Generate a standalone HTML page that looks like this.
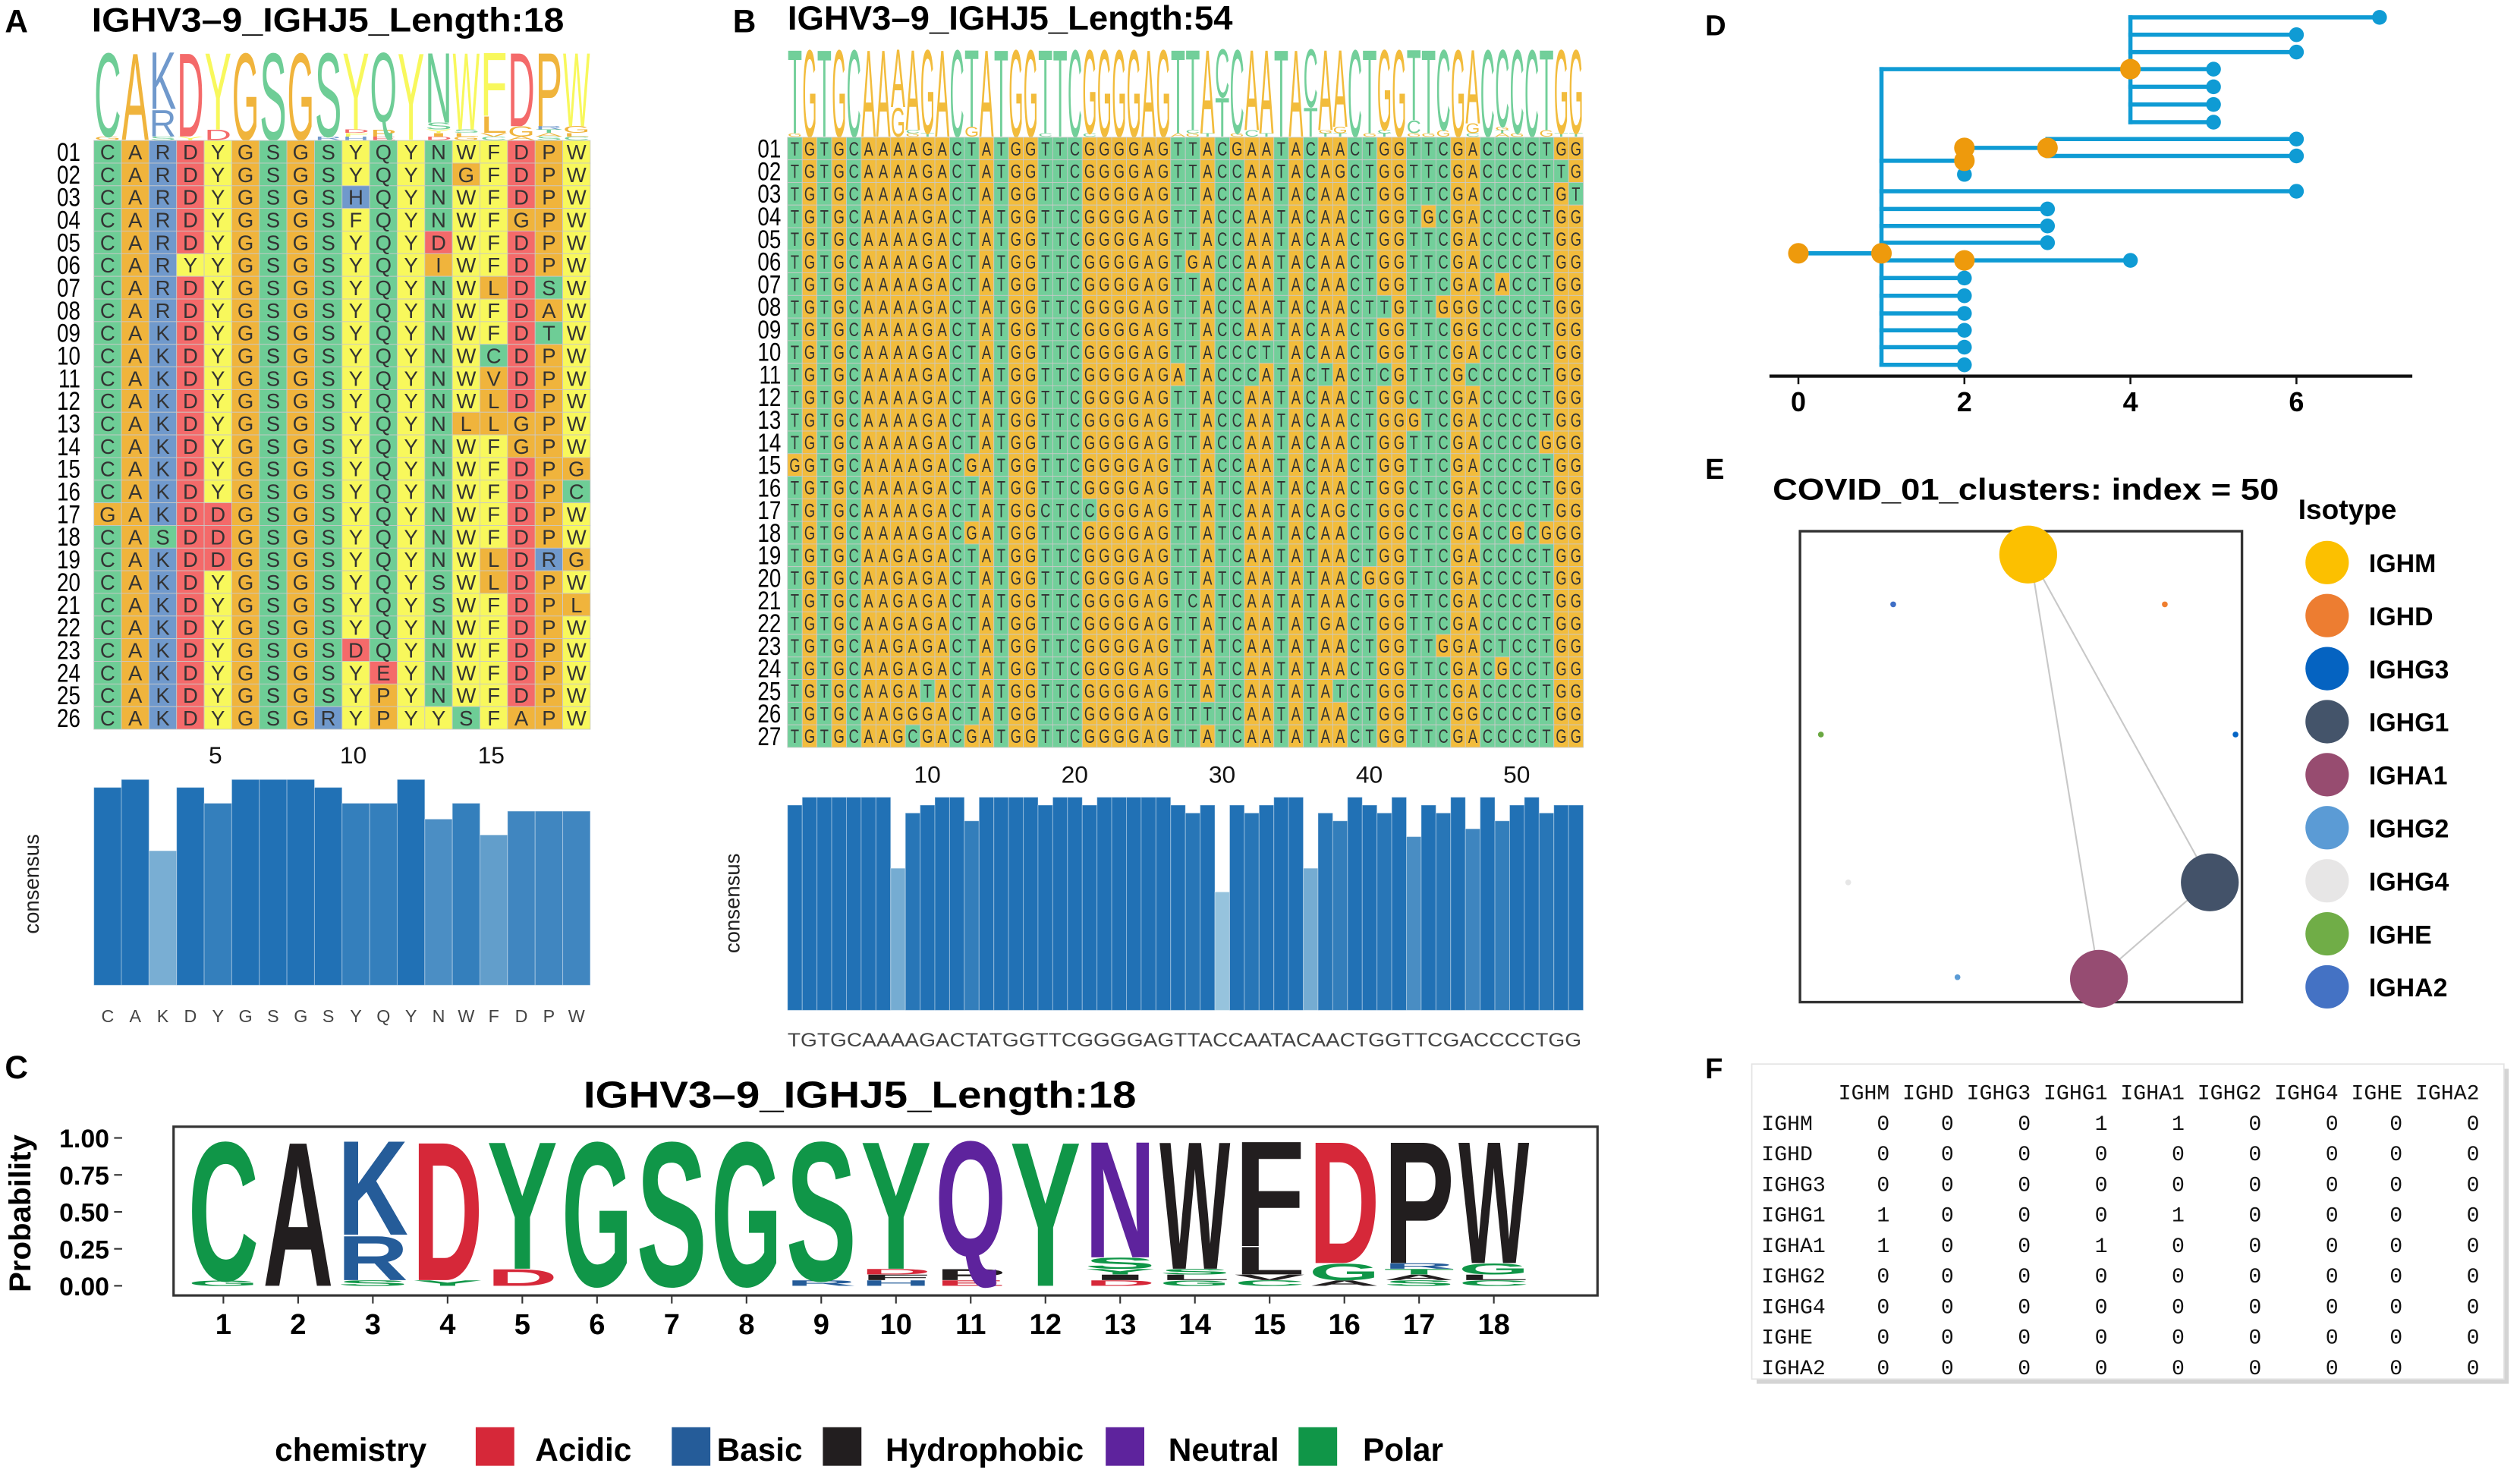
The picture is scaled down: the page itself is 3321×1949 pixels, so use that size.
<!DOCTYPE html>
<html><head><meta charset="utf-8">
<style>
html,body{margin:0;padding:0;background:#fff;}
svg{display:block;}
text{font-family:"Liberation Sans",sans-serif;}
.mono{font-family:"Liberation Mono","DejaVu Sans Mono",monospace;white-space:pre;}
</style></head>
<body>
<svg id="s" xmlns="http://www.w3.org/2000/svg" width="3321" height="1949" viewBox="0 0 1568 920.2">
<rect x="0" y="0" width="1568" height="921" fill="#fff"/>

<!-- ============ PANEL A ============ -->
<text x="3" y="20" font-size="20" font-weight="bold">A</text>
<text x="57" y="19.5" font-size="21" font-weight="bold" textLength="294" lengthAdjust="spacingAndGlyphs">IGHV3–9_IGHJ5_Length:18</text>
<g id="logoA"></g>
<g id="gridA"></g>
<g id="rowsA" font-size="13" fill="#333">
<text class="ra">CARDYGSGSYQYNWFDPW</text>
<text class="ra">CARDYGSGSYQYNGFDPW</text>
<text class="ra">CARDYGSGSHQYNWFDPW</text>
<text class="ra">CARDYGSGSFQYNWFGPW</text>
<text class="ra">CARDYGSGSYQYDWFDPW</text>
<text class="ra">CARYYGSGSYQYIWFDPW</text>
<text class="ra">CARDYGSGSYQYNWLDSW</text>
<text class="ra">CARDYGSGSYQYNWFDAW</text>
<text class="ra">CAKDYGSGSYQYNWFDTW</text>
<text class="ra">CAKDYGSGSYQYNWCDPW</text>
<text class="ra">CAKDYGSGSYQYNWVDPW</text>
<text class="ra">CAKDYGSGSYQYNWLDPW</text>
<text class="ra">CAKDYGSGSYQYNLLGPW</text>
<text class="ra">CAKDYGSGSYQYNWFGPW</text>
<text class="ra">CAKDYGSGSYQYNWFDPG</text>
<text class="ra">CAKDYGSGSYQYNWFDPC</text>
<text class="ra">GAKDDGSGSYQYNWFDPW</text>
<text class="ra">CASDDGSGSYQYNWFDPW</text>
<text class="ra">CAKDDGSGSYQYNWLDRG</text>
<text class="ra">CAKDYGSGSYQYSWLDPW</text>
<text class="ra">CAKDYGSGSYQYSWFDPL</text>
<text class="ra">CAKDYGSGSYQYNWFDPW</text>
<text class="ra">CAKDYGSGSDQYNWFDPW</text>
<text class="ra">CAKDYGSGSYEYNWFDPW</text>
<text class="ra">CAKDYGSGSYPYNWFDPW</text>
<text class="ra">CAKDYGSGRYPYYSFAPW</text>
</g>
<g id="labA" font-size="16" fill="#000"></g>
<g font-size="15" fill="#111" text-anchor="middle">
<text x="134" y="475">5</text><text x="219.8" y="475">10</text><text x="305.6" y="475">15</text>
</g>
<g id="barsA"></g>
<text transform="translate(24,550) rotate(-90)" font-size="13" text-anchor="middle" fill="#222">consensus</text>
<text id="consA" y="636" font-size="11" fill="#444">CAKDYGSGSYQYNWFDPW</text>

<!-- ============ PANEL B ============ -->
<text x="456" y="20" font-size="20" font-weight="bold">B</text>
<text x="490" y="18.5" font-size="21" font-weight="bold" textLength="277" lengthAdjust="spacingAndGlyphs">IGHV3–9_IGHJ5_Length:54</text>
<g id="logoB"></g>
<g id="gridB"></g>
<g id="rowsB" font-size="12" fill="#333">
<text class="rb">TGTGCAAAAGACTATGGTTCGGGGAGTTACGAATACAACTGGTTCGACCCCTGG</text>
<text class="rb">TGTGCAAAAGACTATGGTTCGGGGAGTTACCAATACAGCTGGTTCGACCCCTTG</text>
<text class="rb">TGTGCAAAAGACTATGGTTCGGGGAGTTACCAATACAACTGGTTCGACCCCTGT</text>
<text class="rb">TGTGCAAAAGACTATGGTTCGGGGAGTTACCAATACAACTGGTGCGACCCCTGG</text>
<text class="rb">TGTGCAAAAGACTATGGTTCGGGGAGTTACCAATACAACTGGTTCGACCCCTGG</text>
<text class="rb">TGTGCAAAAGACTATGGTTCGGGGAGTGACCAATACAACTGGTTCGACCCCTGG</text>
<text class="rb">TGTGCAAAAGACTATGGTTCGGGGAGTTACCAATACAACTGGTTCGACACCTGG</text>
<text class="rb">TGTGCAAAAGACTATGGTTCGGGGAGTTACCAATACAACTTGTTGGGCCCCTGG</text>
<text class="rb">TGTGCAAAAGACTATGGTTCGGGGAGTTACCAATACAACTGGTTCGGCCCCTGG</text>
<text class="rb">TGTGCAAAAGACTATGGTTCGGGGAGTTACCCTTACAACTGGTTCGACCCCTGG</text>
<text class="rb">TGTGCAAAAGACTATGGTTCGGGGAGATACCCATACTACTCGTTCGCCCCCTGG</text>
<text class="rb">TGTGCAAAAGACTATGGTTCGGGGAGTTACCAATACAACTGGCTCGACCCCTGG</text>
<text class="rb">TGTGCAAAAGACTATGGTTCGGGGAGTTACCAATACAACTGGGTCGACCCCTGG</text>
<text class="rb">TGTGCAAAAGACTATGGTTCGGGGAGTTACCAATACAACTGGTTCGACCCCGGG</text>
<text class="rb">GGTGCAAAAGACGATGGTTCGGGGAGTTACCAATACAACTGGTTCGACCCCTGG</text>
<text class="rb">TGTGCAAAAGACTATGGTTCGGGGAGTTATCAATACAACTGGCTCGACCCCTGG</text>
<text class="rb">TGTGCAAAAGACTATGGCTCCGGGAGTTATCAATACAGCTGGCTCGACCCCTGG</text>
<text class="rb">TGTGCAAAAGACGATGGTTCGGGGAGTTATCAATACAACTGGCTCGACCGCGGG</text>
<text class="rb">TGTGCAAGAGACTATGGTTCGGGGAGTTATCAATATAACTGGTTCGACCCCTGG</text>
<text class="rb">TGTGCAAGAGACTATGGTTCGGGGAGTTATCAATATAACGGGTTCGACCCCTGG</text>
<text class="rb">TGTGCAAGAGACTATGGTTCGGGGAGTCATCAATATAACTGGTTCGACCCCTGG</text>
<text class="rb">TGTGCAAGAGACTATGGTTCGGGGAGTTATCAATATGACTGGTTCGACCCCTGG</text>
<text class="rb">TGTGCAAGAGACTATGGTTCGGGGAGTTATCAATATAACTGGTTGGACTCCTGG</text>
<text class="rb">TGTGCAAGAGACTATGGTTCGGGGAGTTATCAATATAACTGGTTCGACGCCTGG</text>
<text class="rb">TGTGCAAGATACTATGGTTCGGGGAGTTATCAATATATCTGGTTCGACCCCTGG</text>
<text class="rb">TGTGCAAGGGACTATGGTTCGGGGAGTTTTCAATATAACTGGTTCGGCCCCTGG</text>
<text class="rb">TGTGCAAGCGACGATGGTTCGGGGAGTTATCAATATAACTGGTTCGACCCCTGG</text>
</g>
<g id="labB" font-size="16" fill="#000"></g>
<g font-size="15" fill="#111" text-anchor="middle">
<text x="577" y="487">10</text><text x="668.7" y="487">20</text><text x="760.4" y="487">30</text><text x="852" y="487">40</text><text x="943.7" y="487">50</text>
</g>
<g id="barsB"></g>
<text transform="translate(460,562) rotate(-90)" font-size="13" text-anchor="middle" fill="#222">consensus</text>
<text x="490" y="651" font-size="12" fill="#444" textLength="494" lengthAdjust="spacingAndGlyphs">TGTGCAAAAGACTATGGTTCGGGGAGTTACCAATACAACTGGTTCGACCCCTGG</text>

<!-- ============ PANEL C ============ -->
<text x="3" y="671" font-size="20" font-weight="bold">C</text>
<text x="535" y="689" font-size="23" font-weight="bold" text-anchor="middle" textLength="344" lengthAdjust="spacingAndGlyphs">IGHV3–9_IGHJ5_Length:18</text>
<rect x="108" y="701" width="886" height="105" fill="none" stroke="#333" stroke-width="1.5"/>
<g id="logoC"></g>
<text transform="translate(19,755) rotate(-90)" font-size="19" font-weight="bold" text-anchor="middle">Probability</text>
<g font-size="16" font-weight="bold" text-anchor="end">
<text x="68" y="714">1.00</text><text x="68" y="737">0.75</text><text x="68" y="760">0.50</text><text x="68" y="783">0.25</text><text x="68" y="806">0.00</text>
</g>
<g stroke="#333" stroke-width="1">
<line x1="71" y1="708" x2="76" y2="708"/><line x1="71" y1="731" x2="76" y2="731"/><line x1="71" y1="754" x2="76" y2="754"/><line x1="71" y1="777" x2="76" y2="777"/><line x1="71" y1="800" x2="76" y2="800"/>
</g>
<g id="posC" font-size="18" font-weight="bold" text-anchor="middle"></g>
<g font-size="20" font-weight="bold">
<text x="171" y="909">chemistry</text>
<rect x="296" y="888" width="24" height="24" fill="#D62839"/><text x="333" y="909">Acidic</text>
<rect x="418" y="888" width="24" height="24" fill="#255C99"/><text x="446" y="909">Basic</text>
<rect x="512" y="888" width="24" height="24" fill="#221E1F"/><text x="551" y="909">Hydrophobic</text>
<rect x="688" y="888" width="24" height="24" fill="#5E239D"/><text x="727" y="909">Neutral</text>
<rect x="808" y="888" width="24" height="24" fill="#109648"/><text x="848" y="909">Polar</text>
</g>

<!-- ============ PANEL D ============ -->
<text x="1061" y="22" font-size="18" font-weight="bold">D</text>
<g stroke="#0f9bd4" stroke-width="2.6" fill="none" stroke-linecap="square">
<line x1="1170.7" y1="43" x2="1170.7" y2="227"/>
<line x1="1170.7" y1="43" x2="1325.6" y2="43"/>
<line x1="1325.6" y1="10.8" x2="1325.6" y2="76"/>
<line x1="1325.6" y1="10.8" x2="1480.6" y2="10.8"/>
<line x1="1325.6" y1="21.6" x2="1428.9" y2="21.6"/>
<line x1="1325.6" y1="32.4" x2="1428.9" y2="32.4"/>
<line x1="1325.6" y1="54" x2="1377.3" y2="54"/>
<line x1="1325.6" y1="65" x2="1377.3" y2="65"/>
<line x1="1325.6" y1="76" x2="1377.3" y2="76"/>
<line x1="1170.7" y1="100" x2="1222.3" y2="100"/>
<line x1="1222.3" y1="92" x2="1222.3" y2="108.5"/>
<line x1="1222.3" y1="92" x2="1274" y2="92"/>
<line x1="1274" y1="86.5" x2="1274" y2="97"/>
<line x1="1274" y1="86.5" x2="1428.9" y2="86.5"/>
<line x1="1274" y1="97" x2="1428.9" y2="97"/>
<line x1="1170.7" y1="119" x2="1428.9" y2="119"/>
<line x1="1170.7" y1="130" x2="1274" y2="130"/>
<line x1="1170.7" y1="140.6" x2="1274" y2="140.6"/>
<line x1="1170.7" y1="151" x2="1274" y2="151"/>
<line x1="1119" y1="157.6" x2="1170.7" y2="157.6"/>
<line x1="1170.7" y1="162" x2="1325.6" y2="162"/>
<line x1="1170.7" y1="173" x2="1222.3" y2="173"/>
<line x1="1170.7" y1="184" x2="1222.3" y2="184"/>
<line x1="1170.7" y1="195" x2="1222.3" y2="195"/>
<line x1="1170.7" y1="205.5" x2="1222.3" y2="205.5"/>
<line x1="1170.7" y1="216" x2="1222.3" y2="216"/>
<line x1="1170.7" y1="227" x2="1222.3" y2="227"/>
</g>
<g fill="#0f9bd4">
<circle cx="1480.6" cy="10.8" r="4.6"/><circle cx="1428.9" cy="21.6" r="4.6"/><circle cx="1428.9" cy="32.4" r="4.6"/>
<circle cx="1377.3" cy="43" r="4.6"/><circle cx="1377.3" cy="54" r="4.6"/><circle cx="1377.3" cy="65" r="4.6"/><circle cx="1377.3" cy="76" r="4.6"/>
<circle cx="1428.9" cy="86.5" r="4.6"/><circle cx="1428.9" cy="97" r="4.6"/><circle cx="1222.3" cy="108.5" r="4.6"/>
<circle cx="1428.9" cy="119" r="4.6"/><circle cx="1274" cy="130" r="4.6"/><circle cx="1274" cy="140.6" r="4.6"/><circle cx="1274" cy="151" r="4.6"/>
<circle cx="1325.6" cy="162" r="4.6"/>
<circle cx="1222.3" cy="173" r="4.6"/><circle cx="1222.3" cy="184" r="4.6"/><circle cx="1222.3" cy="195" r="4.6"/><circle cx="1222.3" cy="205.5" r="4.6"/><circle cx="1222.3" cy="216" r="4.6"/><circle cx="1222.3" cy="227" r="4.6"/>
</g>
<line x1="1325.6" y1="43" x2="1377.3" y2="43" stroke="#0f9bd4" stroke-width="2.6"/>
<g fill="#ee9a0c">
<circle cx="1119" cy="157.6" r="6.4"/><circle cx="1170.7" cy="157.6" r="6.4"/><circle cx="1325.6" cy="43" r="6.4"/>
<circle cx="1222.3" cy="100" r="6.4"/><circle cx="1222.3" cy="92" r="6.4"/><circle cx="1274" cy="92" r="6.4"/><circle cx="1222.3" cy="162" r="6.4"/>
</g>
<line x1="1101" y1="234" x2="1501" y2="234" stroke="#111" stroke-width="2"/>
<g stroke="#111" stroke-width="1.2">
<line x1="1119" y1="234" x2="1119" y2="239"/><line x1="1222.3" y1="234" x2="1222.3" y2="239"/><line x1="1325.6" y1="234" x2="1325.6" y2="239"/><line x1="1428.9" y1="234" x2="1428.9" y2="239"/>
</g>
<g font-size="17" font-weight="bold" text-anchor="middle">
<text x="1119" y="256">0</text><text x="1222.3" y="256">2</text><text x="1325.6" y="256">4</text><text x="1428.9" y="256">6</text>
</g>

<!-- ============ PANEL E ============ -->
<text x="1061" y="298" font-size="18" font-weight="bold">E</text>
<text x="1103" y="311" font-size="19" font-weight="bold" textLength="315" lengthAdjust="spacingAndGlyphs">COVID_01_clusters: index = 50</text>
<rect x="1120" y="330.5" width="275" height="293" fill="none" stroke="#333" stroke-width="1.6"/>
<g stroke="#c8c8c8" stroke-width="1">
<line x1="1263" y1="345" x2="1306" y2="608"/>
<line x1="1263" y1="345" x2="1375" y2="548"/>
<line x1="1375" y1="548" x2="1306" y2="608"/>
</g>
<circle cx="1262" cy="345" r="18" fill="#fcc000"/>
<circle cx="1375" cy="549" r="18" fill="#435269"/>
<circle cx="1306" cy="609" r="18" fill="#964c72"/>
<circle cx="1178" cy="376" r="1.8" fill="#3f6fc6"/>
<circle cx="1347" cy="376" r="1.8" fill="#ef7e30"/>
<circle cx="1133" cy="457" r="1.8" fill="#6aa842"/>
<circle cx="1391" cy="457" r="1.8" fill="#0565c5"/>
<circle cx="1150" cy="549" r="1.8" fill="#e6e6e6"/>
<circle cx="1218" cy="608" r="1.8" fill="#5b9bd5"/>
<text x="1430" y="323" font-size="17.5" font-weight="bold">Isotype</text>
<g font-size="16" font-weight="bold">
<circle cx="1448" cy="350" r="13.5" fill="#fcc000"/><text x="1474" y="356">IGHM</text>
<circle cx="1448" cy="383" r="13.5" fill="#ed7d31"/><text x="1474" y="389">IGHD</text>
<circle cx="1448" cy="416" r="13.5" fill="#0563c1"/><text x="1474" y="422">IGHG3</text>
<circle cx="1448" cy="449" r="13.5" fill="#44546a"/><text x="1474" y="455">IGHG1</text>
<circle cx="1448" cy="482" r="13.5" fill="#974c70"/><text x="1474" y="488">IGHA1</text>
<circle cx="1448" cy="515" r="13.5" fill="#5b9bd5"/><text x="1474" y="521">IGHG2</text>
<circle cx="1448" cy="548" r="13.5" fill="#e7e6e6"/><text x="1474" y="554">IGHG4</text>
<circle cx="1448" cy="581" r="13.5" fill="#70ad47"/><text x="1474" y="587">IGHE</text>
<circle cx="1448" cy="614" r="13.5" fill="#4472c4"/><text x="1474" y="620">IGHA2</text>
</g>

<!-- ============ PANEL F ============ -->
<text x="1061" y="671" font-size="18" font-weight="bold">F</text>
<rect x="1093" y="665" width="468" height="196" fill="#d4d4d4"/>
<rect x="1090" y="662" width="468" height="196" fill="#fff" stroke="#e4e4e4" stroke-width="0.8"/>
<g class="mono" font-size="13.3" fill="#111">
<text class="mono" x="1096" y="684">      IGHM IGHD IGHG3 IGHG1 IGHA1 IGHG2 IGHG4 IGHE IGHA2</text>
<text class="mono" x="1096" y="703">IGHM     0    0     0     1     1     0     0    0     0</text>
<text class="mono" x="1096" y="722">IGHD     0    0     0     0     0     0     0    0     0</text>
<text class="mono" x="1096" y="741">IGHG3    0    0     0     0     0     0     0    0     0</text>
<text class="mono" x="1096" y="760">IGHG1    1    0     0     0     1     0     0    0     0</text>
<text class="mono" x="1096" y="779">IGHA1    1    0     0     1     0     0     0    0     0</text>
<text class="mono" x="1096" y="798">IGHG2    0    0     0     0     0     0     0    0     0</text>
<text class="mono" x="1096" y="817">IGHG4    0    0     0     0     0     0     0    0     0</text>
<text class="mono" x="1096" y="836">IGHE     0    0     0     0     0     0     0    0     0</text>
<text class="mono" x="1096" y="855">IGHA2    0    0     0     0     0     0     0    0     0</text>
</g>
</svg>

<script>
(function(){
var NS="http://www.w3.org/2000/svg";
function el(tag,attrs,parent,txt){var e=document.createElementNS(NS,tag);for(var k in attrs)e.setAttribute(k,attrs[k]);if(txt!==undefined)e.textContent=txt;if(parent)parent.appendChild(e);return e;}
var G="#6ecd96",O="#f0b43c",Y="#f8f85c",B="#7099cc",R="#f46a6a";
function colA(c){if("CSTNQ".indexOf(c)>=0)return G;if("AGPLIVM".indexOf(c)>=0)return O;if("KRH".indexOf(c)>=0)return B;if("DE".indexOf(c)>=0)return R;return Y;}
function colB(c){return ("TC".indexOf(c)>=0)?"#72cf9a":"#f2bc3c";}
function chem(c){if("DE".indexOf(c)>=0)return"#D62839";if("KRH".indexOf(c)>=0)return"#255C99";if("QN".indexOf(c)>=0)return"#5E239D";if("GSTYC".indexOf(c)>=0)return"#109648";return"#221E1F";}
function blue(f){var t=Math.max(0,Math.min(1,(f-0.5)/0.45));var a=[166,206,227],b=[33,113,181];return"rgb("+a.map(function(v,i){return Math.round(v+(b[i]-v)*t)}).join(",")+")";}
function glyph(g,ch,x,yb,w,h,color,bold){
  if(h<0.4)return;
  var cap=71.6,desc=0;
  if(ch==="Q"){desc=8;}
  var sy=h/(cap+desc);
  var t=el("text",{x:0,y:0,"font-size":100,fill:color,textLength:62,lengthAdjust:"spacingAndGlyphs",transform:"translate("+x+","+(yb-desc*sy)+") scale("+(w/62)+","+sy+")"},g,ch);
  if(bold)t.setAttribute("font-weight","bold");
}
function counts(seqs,j){var m={};seqs.forEach(function(s){var c=s[j];if(c)m[c]=(m[c]||0)+1;});return m;}
function logo(g,seqs,n,x0,cw,yb,H,colf,bold,pad){
  for(var j=0;j<n;j++){var m=counts(seqs,j);var ks=Object.keys(m).sort(function(a,b){return m[a]-m[b];});var y=yb;
    ks.forEach(function(k){var h=m[k]/seqs.length*H;glyph(g,k,x0+j*cw+pad,y,cw-2*pad,h,colf(k),bold);y-=h;});}
}
function grid(rowsSel,gridId,labId,x0,y0,cw,rh,n,colf,fs,sx,labx){
  var rows=[].slice.call(document.querySelectorAll(rowsSel));var gg=document.getElementById(gridId),lab=document.getElementById(labId);
  var seqs=rows.map(function(r){return r.textContent;});
  rows.forEach(function(r,i){var s=seqs[i];var y=y0+i*rh;
    for(var j=0;j<n;j++){el("rect",{x:x0+j*cw,y:y,width:cw,height:rh,fill:colf(s[j]||"-"),stroke:"#c9c9c9","stroke-width":0.4},gg);}
    var xs=[];for(var j=0;j<s.length;j++)xs.push(((x0+(j+0.5)*cw)/sx).toFixed(2));
    r.setAttribute("x",xs.join(" "));r.setAttribute("y",(y+rh/2+fs*0.36).toFixed(2));r.setAttribute("text-anchor","middle");
    if(sx!==1)r.setAttribute("transform","scale("+sx+",1)");
    var num=(i+1<10?"0":"")+(i+1);
    el("text",{x:labx/0.82,y:(y+rh/2+5.6).toFixed(2),"text-anchor":"end",transform:"scale(0.82,1)"},lab,num);
  });
  return seqs;
}
function bars(gid,seqs,n,x0,cw,yb,H){
  var g=document.getElementById(gid);
  for(var j=0;j<n;j++){var m=counts(seqs,j);var mx=0;for(var k in m)if(m[k]>mx)mx=m[k];var f=mx/seqs.length;
    el("rect",{x:x0+j*cw,y:yb-f*H,width:cw,height:f*H,fill:blue(f),stroke:"rgba(255,255,255,0.35)","stroke-width":0.5},g);}
}
var ax0=58.4,acw=17.16,ay0=87.4,arh=14.09;
var sA=grid(".ra","gridA","labA",ax0,ay0,acw,arh,18,colA,13,1,50);
logo(document.getElementById("logoA"),sA,18,ax0,acw,87,55.5,colA,false,0.2);
bars("barsA",sA,18,ax0,acw,613,128);
var ca=document.getElementById("consA");var xs=[];for(var j=0;j<18;j++)xs.push((ax0+(j+0.5)*acw).toFixed(2));ca.setAttribute("x",xs.join(" "));ca.setAttribute("text-anchor","middle");
var bx0=490,bcw=9.17,by0=85.4,brh=14.06;
var sB=grid(".rb","gridB","labB",bx0,by0,bcw,brh,54,colB,12,0.72,486);
logo(document.getElementById("logoB"),sB,54,bx0,bcw,85,55.5,colB,false,0.1);
bars("barsB",sB,54,bx0,bcw,628.6,132.6);
var gc=document.getElementById("logoC");
for(var j=0;j<18;j++){var m=counts(sA,j);var ks=Object.keys(m).sort(function(a,b){return m[a]-m[b];});var y=800;var cx=139+j*46.5;
  ks.forEach(function(k){var h=m[k]/sA.length*92;glyph(gc,k,cx-22,y,44,h,chem(k),true);y-=h;});}
var pc=document.getElementById("posC");
for(var j=0;j<18;j++){var cx=139+j*46.5;el("line",{x1:cx,y1:806,x2:cx,y2:811,stroke:"#333","stroke-width":1},pc);el("text",{x:cx,y:830},pc,String(j+1));}
})();
</script>
</body></html>
